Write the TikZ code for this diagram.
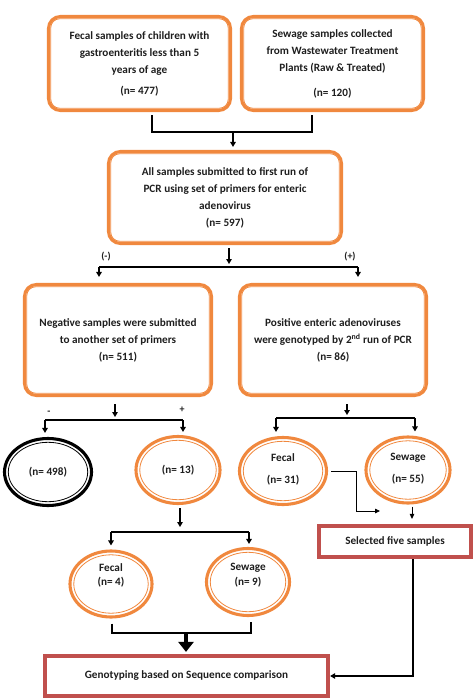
\documentclass[tikz,border=0pt]{standalone}
\usepackage{fontspec}
\setmainfont{Carlito}
\usetikzlibrary{shapes.geometric,arrows.meta,calc}
\definecolor{org}{HTML}{F0883E}
\definecolor{rd}{HTML}{C0504D}
\definecolor{ink}{HTML}{1E1E1E}
\begin{document}
\begin{tikzpicture}[x=1pt,y=-1pt,
 txt/.style={font=\bfseries\fontsize{11.2}{17}\selectfont, align=center, text=ink},
 obox/.style={txt, draw=org, line width=3.1pt, rounded corners=12pt, inner sep=0pt},
 oin/.style={draw=org, line width=0.8pt, rounded corners=9pt},
 oell/.style={ellipse, draw=org, line width=3.1pt, inner sep=0pt},
 bell/.style={ellipse, draw=black, line width=3.1pt, inner sep=0pt},
 oinl/.style={draw=org, line width=0.8pt},
 binl/.style={draw=black, line width=0.8pt},
 rbox/.style={txt, draw=rd, line width=3.2pt, inner sep=0pt},
 rin/.style={draw=rd, line width=0.8pt},
 arr/.style={line width=1.4pt, -{Triangle[width=5.5pt,length=5pt]}},
 ln/.style={line width=1.4pt},
 thinarr/.style={line width=0.8pt, -{Triangle[width=4.5pt,length=5pt]}},
 bigarr/.style={line width=4pt, -{Triangle[width=15pt,length=10pt]}},
 sign/.style={font=\bfseries\fontsize{10}{12}\selectfont, text=ink},
]
\useasboundingbox (0,0) rectangle (474,699);

% boxes
\node[obox, minimum width=182pt, minimum height=94pt] (b1) at (139.5,63.5)
 {Fecal samples of children with\\gastroenteritis less than 5\\years of age\\[4pt](n= 477)};
\node[obox, minimum width=182pt, minimum height=94pt] (b2) at (332.5,63.5)
 {Sewage samples collected\\from Wastewater Treatment\\Plants (Raw \& Treated)\\[8pt](n= 120)};
\node[obox, minimum width=233pt, minimum height=92pt] (b3) at (225,197.5)
 {All samples submitted to first run of\\PCR using set of primers for enteric\\adenovirus\\(n= 597)};
\node[obox, minimum width=187pt, minimum height=111pt] (b4) at (118,340)
 {Negative samples were submitted\\to another set of primers\\(n= 511)};
\node[obox, minimum width=187pt, minimum height=111pt] (b5) at (333,340)
 {Positive enteric adenoviruses\\were genotyped by 2\textsuperscript{nd} run of PCR\\(n= 86)};
\foreach \b in {b1,b2,b3,b4,b5}{
 \draw[oin] ([xshift=3.8pt,yshift=-3.8pt]\b.north west) rectangle ([xshift=-3.8pt,yshift=3.8pt]\b.south east);
}

% ellipses
\node[bell, minimum width=87pt, minimum height=67pt] (e498) at (48,472) {};
\draw[binl] (e498.center) ellipse [x radius=39.7pt, y radius=29.7pt];
\node[oell, minimum width=84pt, minimum height=67pt] (e13) at (178,470) {};
\node[oell, minimum width=87pt, minimum height=67pt] (eF31) at (283,471) {};
\node[oell, minimum width=84pt, minimum height=66pt] (eS55) at (408,470) {};
\node[oell, minimum width=82pt, minimum height=66pt] (eF4) at (111,584) {};
\node[oell, minimum width=83pt, minimum height=67pt] (eS9) at (248,582) {};
\draw[oinl] (e13.center) ellipse [x radius=38.2pt, y radius=29.7pt];
\draw[oinl] (eF31.center) ellipse [x radius=39.7pt, y radius=29.7pt];
\draw[oinl] (eS55.center) ellipse [x radius=38.2pt, y radius=29.2pt];
\draw[oinl] (eF4.center) ellipse [x radius=37.2pt, y radius=29.2pt];
\draw[oinl] (eS9.center) ellipse [x radius=37.7pt, y radius=29.7pt];

\node[txt] (t498) at (48,472) {(n= 498)};
\node[txt] (t13) at (178,470) {(n= 13)};
\node[txt] (tF31) at (283,469) {Fecal\\[5pt](n= 31)};
\node[txt] (tS55) at (408,469) {Sewage\\[5pt](n= 55)};
\node[txt, font=\bfseries\fontsize{11.2}{14}\selectfont] (tF4) at (111,575) {Fecal\\(n= 4)};
\node[txt, font=\bfseries\fontsize{11.2}{15}\selectfont] (tS9) at (248,575.5) {Sewage\\(n= 9)};

% red boxes
\node[rbox, minimum width=153pt, minimum height=32pt] (sel) at (395,541.5) {Selected five samples};
\node[rbox, minimum width=284pt, minimum height=41pt] (geno) at (186.5,676) {Genotyping based on Sequence comparison};
\foreach \b in {sel,geno}{
 \draw[rin] ([xshift=3.9pt,yshift=-3.9pt]\b.north west) rectangle ([xshift=-3.9pt,yshift=3.9pt]\b.south east);
}

% top merge
\coordinate (j1) at (152,132);
\coordinate (j2) at (312,132);
\coordinate (m1) at (233,132);
\draw[ln] ([yshift=-3pt]b1.south -| j1) -- (j1) -- (j2) -- ([yshift=-3pt]b2.south -| j2);
\draw[arr, shorten >=3pt] (m1) -- (b3.north -| m1);

% first split
\coordinate (s1) at (229,267);
\coordinate (sL) at (99,267);
\coordinate (sR) at (358,267);
\draw[arr] ([yshift=-3pt]b3.south -| s1) -- ([yshift=3pt]s1);
\draw[ln] (sL) -- (sR);
\draw[arr, shorten >=6pt] (sL) -- (b4.north -| sL);
\draw[arr, shorten >=6pt] (sR) -- (b5.north -| sR);
\node[sign] (lneg) at (106,257) {(-)};
\node[sign] (lpos) at (350,257) {(+)};

% second split (negative)
\coordinate (s2) at (115,420);
\coordinate (s2L) at (45,420);
\coordinate (s2R) at (183,420);
\draw[arr] ([yshift=-7pt]b4.south -| s2) -- ([yshift=3pt]s2);
\draw[ln] (s2L) -- (s2R);
\draw[arr, shorten >=4pt] (s2L) -- (e498.north -| s2L);
\draw[arr, shorten >=3pt] (s2R) -- (e13.north -| s2R);
\node[sign] (l2neg) at (49,413) {-};
\node[sign] (l2pos) at (182,410) {+};

% third split (positive)
\coordinate (s3) at (347,418);
\coordinate (s3L) at (276,418);
\coordinate (s3R) at (415,418);
\draw[arr] ([yshift=-7pt]b5.south -| s3) -- ([yshift=3pt]s3);
\draw[ln] (s3L) -- (s3R);
\draw[arr, shorten >=4pt] (s3L) -- (eF31.north -| s3L);
\draw[arr, shorten >=4pt] (s3R) -- (eS55.north -| s3R);

% fecal 31 to selected
\coordinate (tk) at (356,511);
\coordinate (tc) at (380,511);
\draw[thinarr] ([xshift=3pt]eF31.east) -| (tk) -- (tc);
\coordinate (q1) at ([xshift=4pt,yshift=-2pt]eS55.south);
\draw[thinarr, line width=1pt, shorten >=5pt] (q1) -- (q1 |- sel.north);

% n=13 split
\coordinate (s4) at (180,532);
\coordinate (s4L) at (111,532);
\coordinate (s4R) at (249,532);
\draw[arr] ([yshift=-3pt]e13.south -| s4) -- ([yshift=5pt]s4);
\draw[ln] (s4L) -- (s4R);
\draw[arr, shorten >=4pt] (s4L) -- (eF4.north -| s4L);
\draw[arr, shorten >=3pt] (s4R) -- (eS9.north -| s4R);

% merge to genotyping
\coordinate (k1) at (112,633);
\coordinate (k2) at (251,633);
\coordinate (k3) at (186,633);
\draw[ln] ([yshift=-5pt]eF4.south -| k1) -- (k1) -- (k2) -- ([yshift=-5pt]eS9.south -| k2);
\draw[bigarr, shorten >=2pt] (k3) -- (geno.north -| k3);

% selected to genotyping
\coordinate (r1) at (413,676);
\draw[arr] (sel.south -| r1) -- (r1) -- (geno.east);
\end{tikzpicture}
\end{document}
